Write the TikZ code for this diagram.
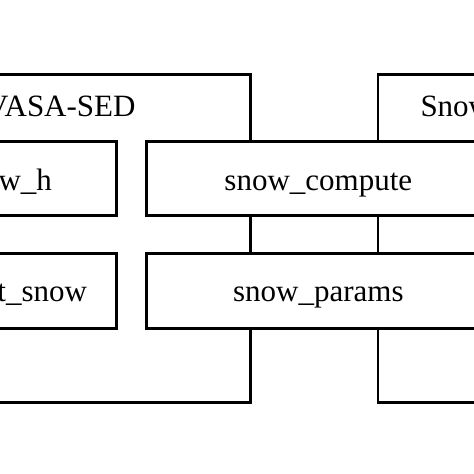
\documentclass[tikz,border=0pt]{standalone}
\usepackage{fontspec}
\setmainfont{Liberation Serif}
\begin{document}
\begin{tikzpicture}[x=1pt,y=-1pt,
  box/.style={draw=black, line width=2.8pt, fill=white, inner sep=0pt, outer sep=0pt, rectangle},
  lbl/.style={inner sep=0pt, outer sep=0pt, font=\fontsize{31}{36}\selectfont, text=black}]
\useasboundingbox (0,0) rectangle (474,474);
\fill[white] (0,0) rectangle (474,474);
% outer components
\node[box, minimum width=290.5pt, minimum height=328pt] (vasa) at (105.25,238.7) {};
\node[box, minimum width=142pt, minimum height=328pt] (snowmod) at (449,238.7) {};
% inner modules
\node[box, minimum width=316.7pt, minimum height=74pt] (snowh) at (-41.65,178.7) {};
\node[box, minimum width=343.3pt, minimum height=74pt] (compute) at (318.35,178.7) {};
\node[box, minimum width=316.7pt, minimum height=75pt] (initsnow) at (-41.65,290.8) {};
\node[box, minimum width=343.3pt, minimum height=75pt] (params) at (318.35,290.8) {};
% labels
\node[lbl, anchor=base east] (tvasa) at (135.5,116.5) {VASA-SED};
\node[lbl, anchor=base west] (tsnow) at (420.5,116.5) {Snow};
\node[lbl, anchor=base east] (tsnowh) at (52,190) {w\_h};
\node[lbl, anchor=base] (tcompute) at (318.3,190) {snow\_compute};
\node[lbl, anchor=base east] (tinit) at (87,301.7) {t\_snow};
\node[lbl, anchor=base] (tparams) at (318.4,301.7) {snow\_params};
\end{tikzpicture}
\end{document}
